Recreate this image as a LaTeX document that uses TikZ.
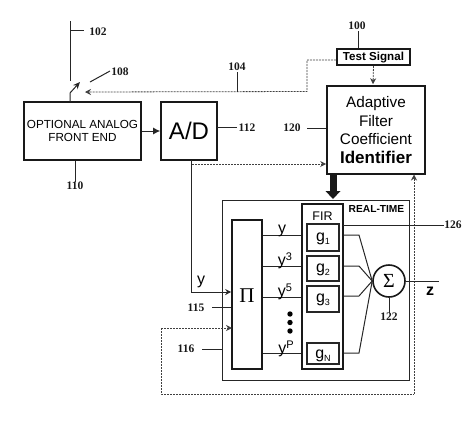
\documentclass[tikz,border=0pt]{standalone}
\usepackage{fontspec}
\setmainfont{Liberation Sans}
\newfontfamily\numfont{Liberation Serif}
\usetikzlibrary{arrows.meta,calc}
\newcommand{\upp}[1]{\raisebox{5.5pt}{\fontsize{11}{11}\selectfont #1}}
\newcommand{\dwn}[1]{\raisebox{-2.5pt}{\fontsize{9}{9}\selectfont #1}}
\tikzset{
  blk/.style={draw=black!90,line width=1.6pt,inner sep=0pt,align=center,font=\fontsize{#1}{#1}\selectfont},
  blk/.default=10,
  thin box/.style={draw=black!85,line width=1pt,inner sep=0pt},
  num/.style={font=\numfont\bfseries\fontsize{11.5}{11.5}\selectfont,inner sep=0pt,text=black!90},
  sig/.style={font=\fontsize{16}{16}\selectfont,inner sep=0pt},
  wire/.style={draw=black!85,line width=1pt},
  lead/.style={draw=black!85,line width=1pt},
  dash wire/.style={draw=black!75,line width=0.8pt,dash pattern=on 2pt off 1pt},
  tip/.style={-{Stealth[length=6pt,width=6pt]}},
}
\begin{document}
\begin{tikzpicture}[x=1pt,y=-1pt]
\useasboundingbox (0,0) rectangle (474,424);
% real-time frame first
\node[thin box,minimum width=187pt,minimum height=180pt] (rt) at (315.5,290) {};
\node[font=\bfseries\fontsize{10.2}{10.2}\selectfont,inner sep=0pt] (rtl) at (376.5,208.5) {REAL-TIME};
% blocks
\node[blk=11.7,minimum width=117pt,minimum height=58pt] (fe) at (82.5,131) {OPTIONAL ANALOG\\[2pt]FRONT END};
\node[blk=24,minimum width=56pt,minimum height=58pt] (ad) at (189,131) {A/D};
\node[draw=black!90,line width=1.7pt,minimum width=73pt,minimum height=16pt,inner sep=0pt] (ts) at (373.5,57) {};
\node[font=\bfseries\fontsize{11.6}{11.6}\selectfont,inner sep=0pt] (tsl) at (373.5,58) {Test Signal};
\node[blk=15.3,minimum width=98pt,minimum height=88pt] (id) at (376,130) {Adaptive\\[3.3pt]Filter\\[3.3pt]Coefficient\\[3.3pt]\bfseries\fontsize{17}{17}\selectfont Identifier};
\node[blk=10,minimum width=30pt,minimum height=149pt] (pi) at (247,294.5) {};
\node[inner sep=0pt,font=\numfont\fontsize{21}{21}\selectfont] (pisym) at (247,296) {Π};
\node[blk=10,minimum width=41pt,minimum height=165pt] (fir) at (322.5,286.5) {};
\node[font=\fontsize{12.5}{12.5}\selectfont,inner sep=0pt] (firl) at (322.5,216) {FIR};
\node[thin box,line width=1.4pt,minimum width=32pt,minimum height=27pt] (g1) at (323,237.5) {};
\node[thin box,line width=1.4pt,minimum width=32pt,minimum height=25pt] (g2) at (323,268.5) {};
\node[thin box,line width=1.4pt,minimum width=32pt,minimum height=26pt] (g3) at (323,299) {};
\node[thin box,line width=1.4pt,minimum width=32pt,minimum height=21pt] (gn) at (323,353.5) {};
\node[sig] (g1l) at (323,239) {g\dwn{1}};
\node[sig] (g2l) at (323,270) {g\dwn{2}};
\node[sig] (g3l) at (323,300) {g\dwn{3}};
\node[sig] (gnl) at (323,356) {g\dwn{N}};
\node[circle,draw=black!90,line width=1.6pt,minimum size=32pt,inner sep=0pt,font=\numfont\fontsize{20}{20}\selectfont] (sum) at (389,281) {Σ};
% coordinates
\coordinate (ant) at (70,21);
\coordinate (anttick) at (84,30);
\coordinate (antbot) at (70,81);
\coordinate (swbase) at (70,102);
\coordinate (swknee) at (70,93);
\coordinate (swtip) at (80,82);
\coordinate (w104a) at (307,60);
\coordinate (w104b) at (307,91.5);
\coordinate (w104end) at (85,92);
\coordinate (adbot) at (191,160);
\coordinate (adbend) at (191,292);
\coordinate (dashstart) at (192,164);
\coordinate (fbin) at (232,328);
\coordinate (fba) at (161,328);
\coordinate (fbb) at (161,394);
\coordinate (fbc) at (414,394);
\coordinate (fbend) at (414,174.5);
\coordinate (j1) at (359,235);\coordinate (j2) at (359,266);\coordinate (j3) at (359,296);\coordinate (j4) at (359,353);
% wires
\draw[lead] (ant) -- (antbot);
\draw[lead] (70,30) -- (anttick);
\draw[wire,-{Stealth[length=7pt,width=6pt]}] (swbase) -- (swknee) -- (swtip);
\draw[wire,-{Latex[length=7pt,width=7pt]}] (fe.east) -- (ad.west);
\draw[dash wire,tip] (ts.west |- w104a) -- (w104a) -- (w104b) -- (w104end);
\draw[dash wire,tip] (ts.south) -- ($(id.north)+(-3,-1)$);
\draw[dash wire,tip] (dashstart) -- (dashstart -| id.west);
\draw[wire,tip] (adbot) -- (adbend) -- (adbend -| pi.west);
\draw[dash wire,line width=1pt,tip] (fbin -| fba) -- (fbin);
\draw[dash wire,line width=1pt] (fbin -| fba) -- (fbb) -- (fbc);
\draw[dash wire,tip] (fbc) -- (fbend);
\draw[line width=7pt,black!90] (333,175) -- (333,191);
\fill[black!90] (325.5,191) -- (340.5,191) -- (333,199) -- cycle;
% power lines
\foreach \yy/\nn in {235/g1,266/g2,297/g3,353.5/gn}{
  \draw[wire] (pi.east |- 0,\yy) -- (fir.west |- 0,\yy);
}
\draw[wire] (fir.east |- j1) -- (j1) -- (sum.west);
\draw[wire] (fir.east |- j2) -- (j2) -- (sum.west);
\draw[wire] (fir.east |- j3) -- (j3) -- (sum.west);
\draw[wire] (fir.east |- j4) -- (j4) -- (sum.west);
\coordinate (zend) at (439,281);
\draw[wire] (sum.east) -- (zend);
% leaders and numerals
\node[num] (n102) at (98,32) {102};
\node[num] (n108) at (120,72) {108};
\node[num] (n104) at (237,67) {104};
\node[num] (n100) at (357,26) {100};
\node[num] (n112) at (247,128) {112};
\node[num] (n120) at (292,128) {120};
\node[num] (n110) at (75,186) {110};
\node[num] (n115) at (196,308) {115};
\node[num] (n116) at (186,349) {116};
\node[num] (n122) at (389,317) {122};
\node[num] (n126) at (453,225) {126};
\draw[lead] (110,71) -- (90,82);
\draw[lead] (237,72) -- (237,92);
\draw[lead] (358,31) -- (ts.north -| 358,0);
\draw[lead] (217,127.5) -- (237,127.5);
\draw[lead] (307,128) -- (307,128 -| id.west);
\draw[lead] (fe.south -| 75,0) -- (n110.north);
\draw[lead] (212,307) -- (212,307 -| pi.west);
\draw[lead] (202,349) -- (202,349 -| rt.west);
\draw[lead] (sum.south) -- (n122.north);
\draw[lead] (343,225) -- (n126.west);
% signal labels
\node[sig] (yin) at (201,282) {y};
\node[sig] (y1) at (282,231) {y};
\node[sig] (y3) at (285,261) {y\upp{3}};
\node[sig] (y5) at (285,292) {y\upp{5}};
\node[sig] (yp) at (286,349) {y\upp{P}};
\node[font=\bfseries\fontsize{16}{16}\selectfont,inner sep=0pt] (zl) at (430,291) {z};
\foreach \yy in {314,322.5,331}{\fill[black] (290,\yy) circle (2.7pt);}
\end{tikzpicture}
\end{document}
